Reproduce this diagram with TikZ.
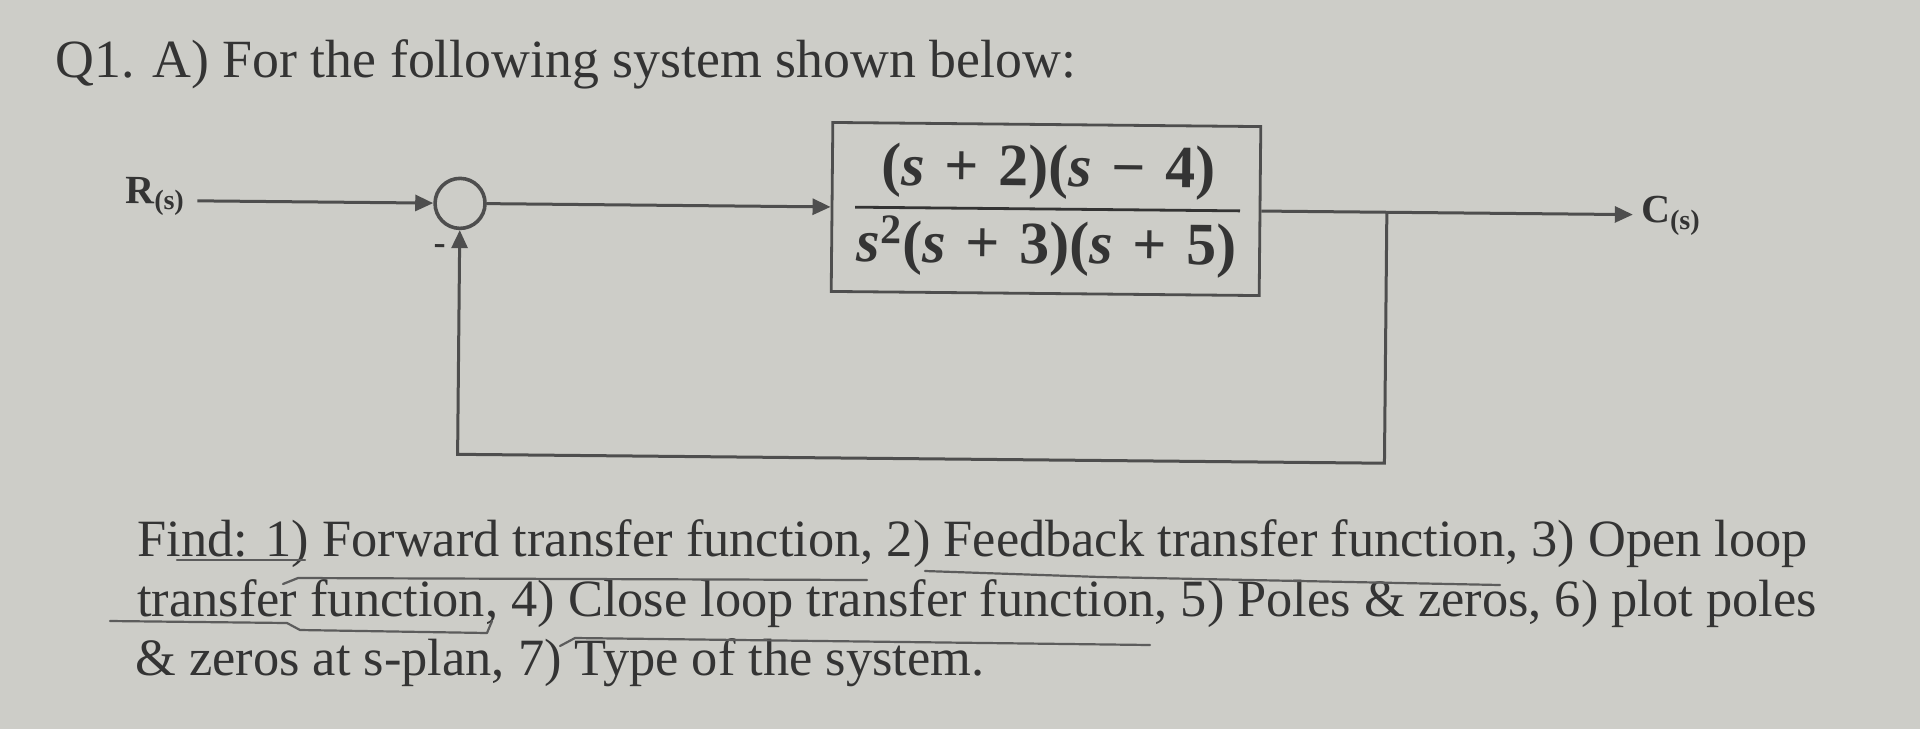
\documentclass[tikz,border=0pt]{standalone}
\usepackage{fontspec}
\setmainfont{Liberation Serif}
\usetikzlibrary{arrows.meta}
\definecolor{paper}{RGB}{205,205,200}
\definecolor{ink}{RGB}{52,52,52}
\definecolor{wire}{RGB}{78,78,78}
\definecolor{pen}{RGB}{92,92,92}
\newcommand{\vs}{\textit{s}}
\newcommand{\gap}{\hspace{0.33em}}
\begin{document}
\begin{tikzpicture}[x=0.5pt,y=-0.5pt,
  wirel/.style={draw=wire,line width=1.5pt},
  arr/.style={wirel,-{Triangle[length=9pt,width=8pt]}},
  penline/.style={draw=pen,line width=1.1pt,line cap=round,line join=round},
  txt/.style={text=ink,inner sep=0pt,anchor=base west},
  bodyfont/.style={font=\fontsize{26.2}{30}\selectfont},
  lbl/.style={text=ink,inner sep=0pt,anchor=west,font=\fontsize{20}{24}\selectfont\bfseries},
  blockbox/.style={draw=wire,line width=1.4pt,minimum width=214pt,minimum height=84.5pt},
  fracfont/.style={text=ink,inner sep=0pt,font=\fontsize{30}{34}\selectfont\bfseries},
  ]
\fill[paper] (0,0) rectangle (1920,729);
\useasboundingbox (0,0) rectangle (1920,729);

% title
\node[txt,font=\fontsize{26.9}{30}\selectfont] (title) at (55,77) {Q1. A) For the following system shown below:};

% block diagram (the photo is slightly tilted)
\begin{scope}[rotate around={-0.55:(1046,209)},transform shape]
\node[lbl] (rin) at (125,205) {R\textsubscript{(s)}};
\node[circle,draw=wire,line width=1.8pt,minimum size=25pt,inner sep=0pt] (sum) at (460,209) {};
\node[blockbox] (plant) at (1046,209) {};
\node[fracfont] (num) at (1048,172) {(\vs\gap+\gap2)(\vs\gap−\gap4)};
\node[fracfont] (den) at (1047,247) {\vs\textsuperscript{2}(\vs\gap+\gap3)(\vs\gap+\gap5)};
\draw[draw=ink,line width=1.4pt] (855,209) -- (1240,209);
\node[lbl] (cout) at (1641,210) {C\textsubscript{(s)}};
\node[text=ink,inner sep=0pt,font=\fontsize{18}{18}\selectfont\bfseries] (minus) at (440,255) {-};

\coordinate (br) at (1387,209);
\coordinate (fb) at (1387,460);

\draw[arr,shorten <=6pt] (rin.east |- sum.west) -- (sum.west);
\draw[arr] (sum.east) -- (plant.west);
\draw[arr,shorten >=4pt] (plant.east) -- (plant.east -| cout.west);
\draw[arr] (br) -- (fb) -| (sum.south);
\end{scope}

% question text
\node[txt,bodyfont] (q1) at (137,556) {Find: 1) Forward transfer function, 2) Feedback transfer function, 3) Open loop};
\node[txt,bodyfont] (q2) at (137,616) {transfer function, 4) Close loop transfer function, 5) Poles \& zeros, 6) plot poles};
\node[txt,bodyfont] (q3) at (135,675) {\& zeros at s-plan, 7) Type of the system.};

% pen marks
\draw[penline] (177,560) -- (305,560);
\draw[penline] (283,584) -- (298,578) -- (867,580);
\draw[penline] (925,571) -- (1100,577) -- (1500,585);
\draw[penline] (110,621) -- (287,623) -- (300,630) -- (487,633) -- (492,621);
\draw[penline] (560,646) -- (575,638) -- (1150,645);
\end{tikzpicture}
\end{document}
